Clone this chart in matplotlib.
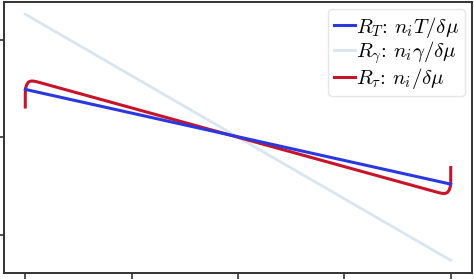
import numpy as np
import matplotlib
matplotlib.use("Agg")
from matplotlib import pyplot as plt

plt.rcParams['mathtext.fontset'] = 'cm'
plt.rcParams['font.family'] = 'serif'
plt.rcParams['font.serif'] = ['cmr10', 'DejaVu Serif']
plt.rcParams['axes.formatter.use_mathtext'] = True

# R_T and R_gamma are straight lines (end points)
x_T = [-1.0, 1.0]
y_T = [0.49, -0.48]
x_gamma = [-1.0, 1.0]
y_gamma = [1.26, -1.26]

# R_tau with its boundary hooks at both ends
x_tau = [-1.0, -1.0, -0.998, -0.993, -0.985, -0.975, -0.962, -0.945, -0.92,
         0.0,
         0.92, 0.945, 0.962, 0.975, 0.985, 0.993, 0.998, 1.0, 1.0]
y_tau = [0.31, 0.45, 0.505, 0.54, 0.565, 0.575, 0.575, 0.568, 0.553,
         0.0,
         -0.553, -0.568, -0.575, -0.575, -0.565, -0.54, -0.505, -0.45, -0.31]

labels = [r'$R_T$: $n_iT/\delta\mu$',
          r'$R_\gamma$: $n_i\gamma/\delta\mu$',
          r'$R_\tau$: $n_i/\delta\mu$']

fig = plt.figure(figsize=(4.74, 2.79), dpi=100)
ax = fig.add_axes([4/474, 1 - 273/279, 468/474, 271/279])

ax.plot(x_T, y_T, color='#2b38e0', lw=2.2, label=labels[0], zorder=3)
ax.plot(x_gamma, y_gamma, color='#d9e6f0', lw=2.0, label=labels[1], zorder=1)
ax.plot(x_tau, y_tau, color='#c8142a', lw=2.2, label=labels[2], zorder=2)

ax.set_xlim(-1.1, 1.1)
ax.set_ylim(-1.39, 1.385)
ax.set_xticks([-1, -0.5, 0, 0.5, 1])
ax.set_yticks([-1, 0, 1])
ax.set_xticklabels([])
ax.set_yticklabels([])
ax.tick_params(length=6, width=1.2, color='#333333')
for s in ax.spines.values():
    s.set_linewidth(1.4)
    s.set_color('#333333')

ax.legend(loc='upper right', fontsize=15, handlelength=1.05, handletextpad=0.05,
          labelspacing=0.0, borderaxespad=0.35, borderpad=0.25, framealpha=1,
          edgecolor='#e6e6e6')

fig.savefig('out.png', dpi=100)
